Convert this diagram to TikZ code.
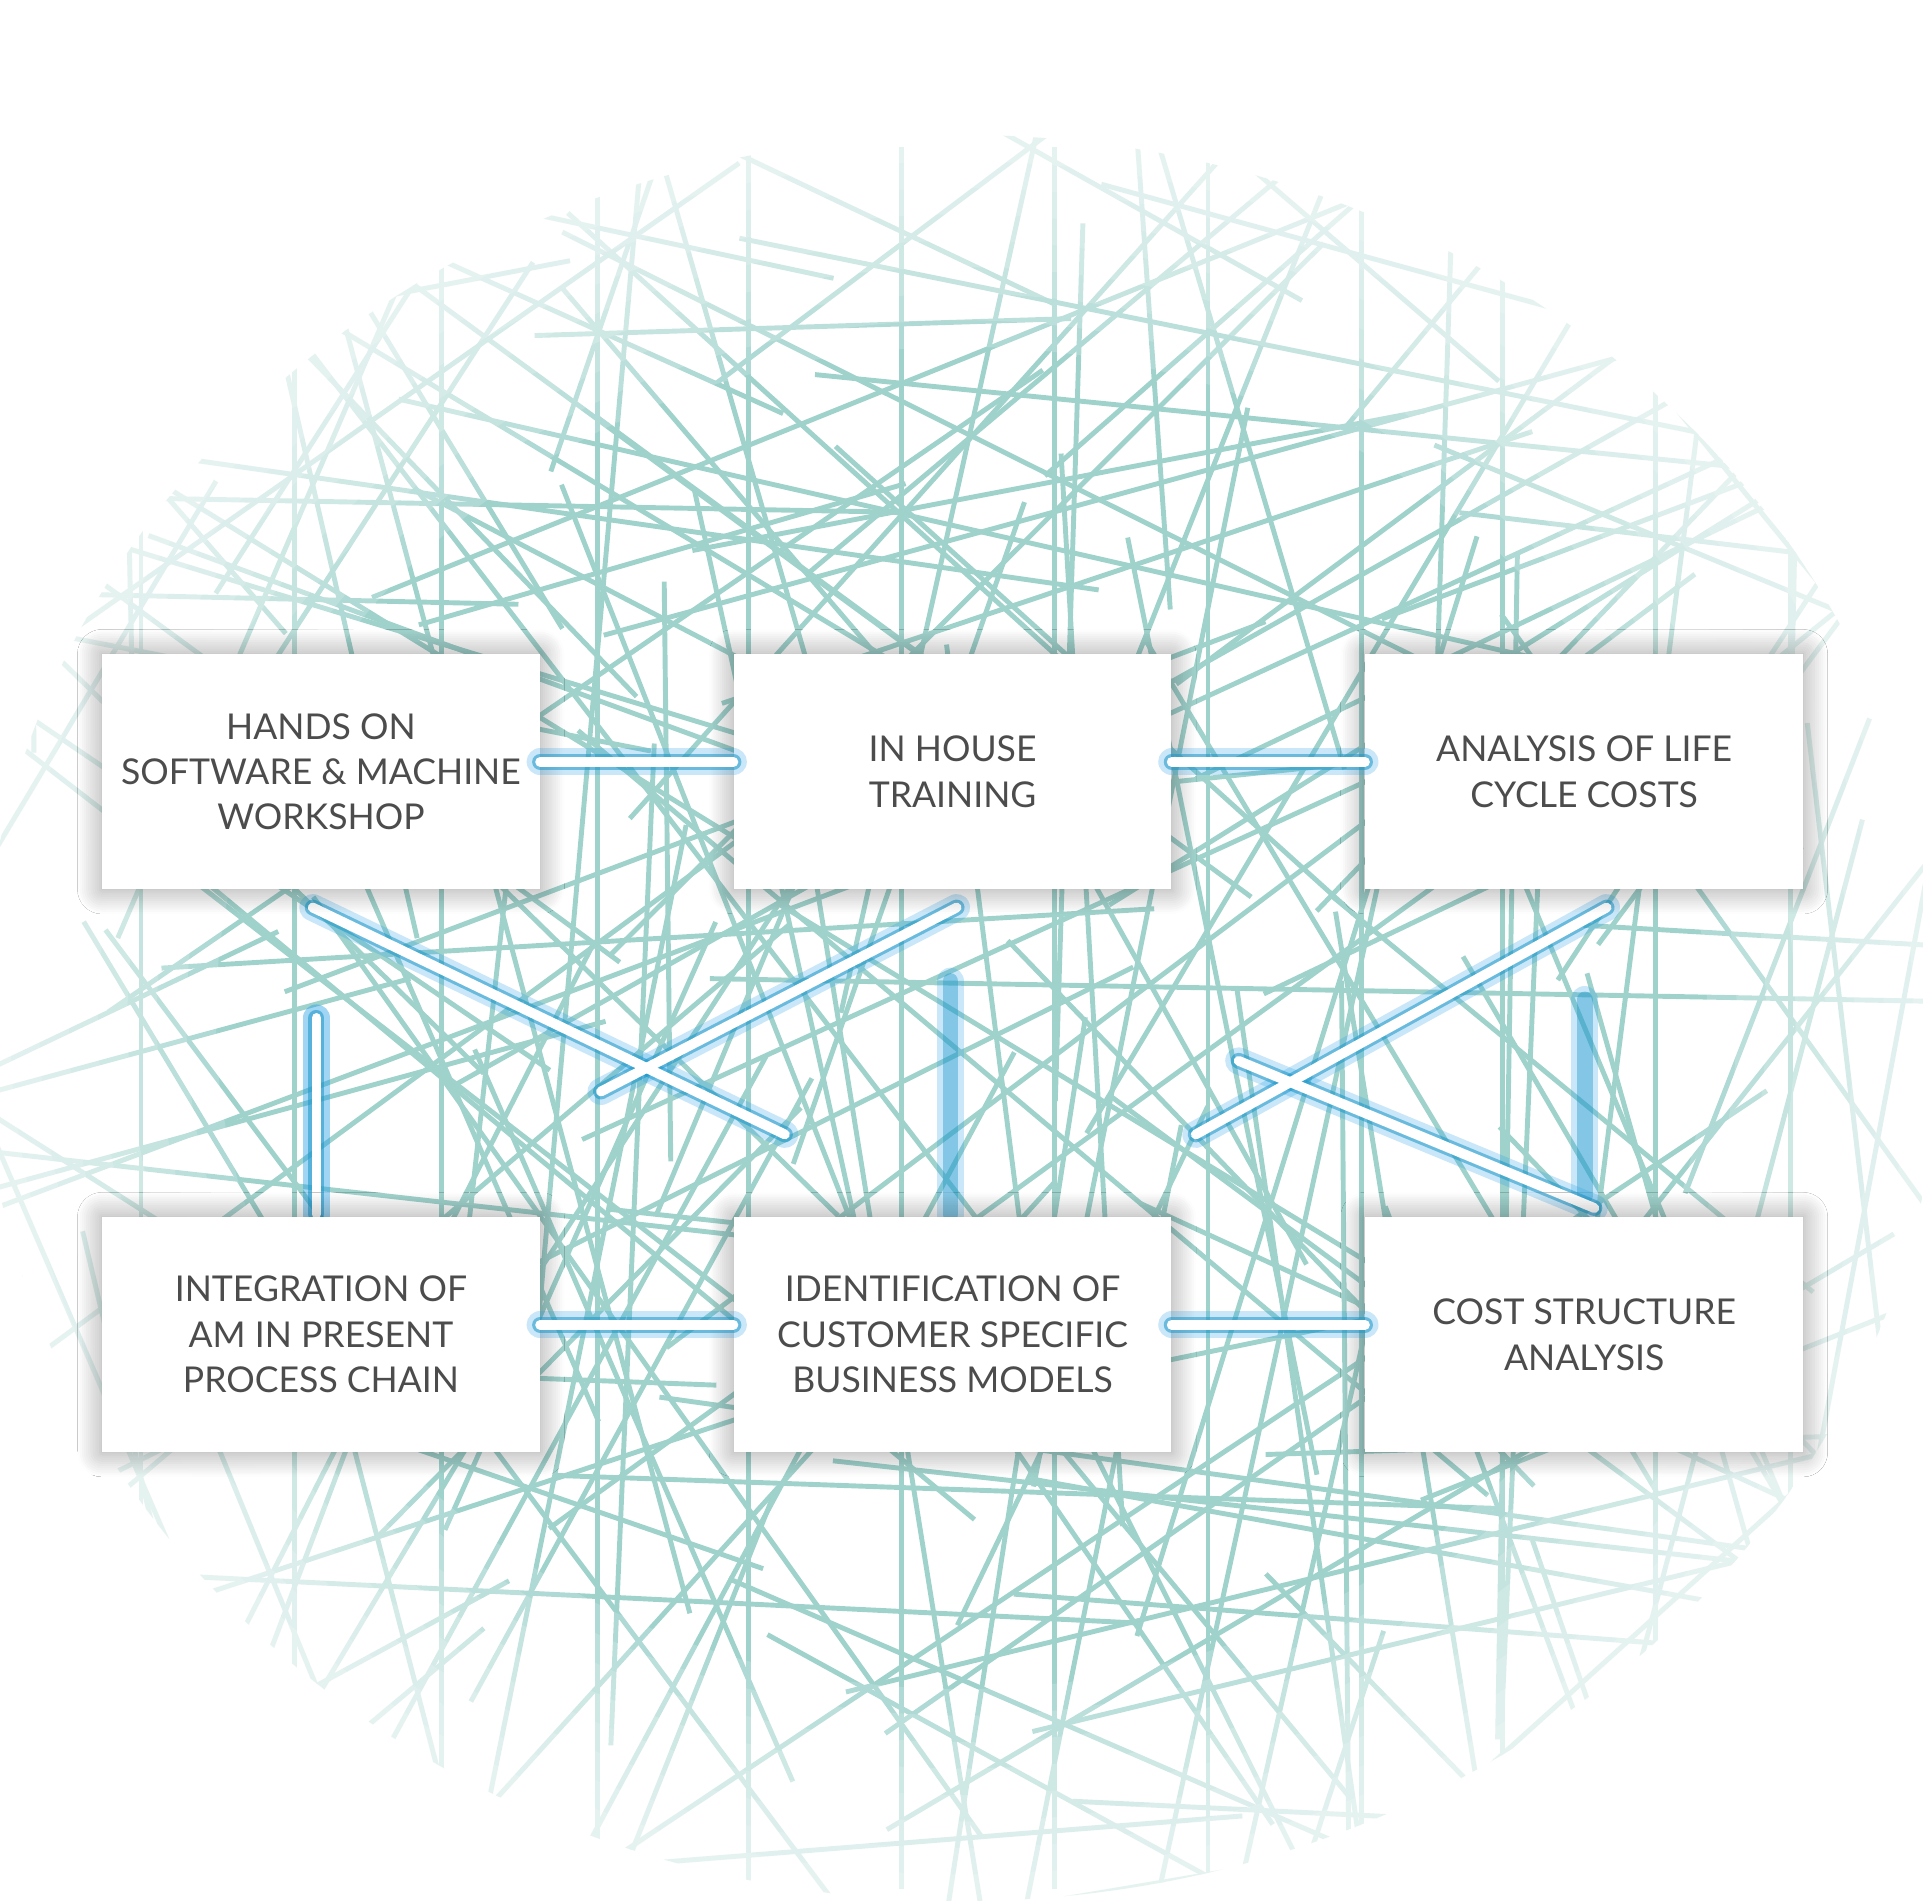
\documentclass[tikz,border=0pt]{standalone}
\usepackage{fontspec}
\setmainfont{Lato}
\usetikzlibrary{shadows.blur}
\definecolor{netc}{RGB}{160,210,204}
\definecolor{glowc}{RGB}{40,160,230}
\begin{document}
\begin{tikzpicture}[x=1pt,y=-1pt,
  box/.style={draw=none,fill=white,minimum width=357pt,minimum height=192pt,anchor=north west,
    align=center,font=\fontsize{29}{37}\selectfont,text=black!70,
    blur shadow={shadow xshift=0pt,shadow yshift=0pt,shadow blur radius=20pt,shadow blur steps=12,shadow opacity=40}},
  glow/.style={line width=22pt,draw=glowc,opacity=.25,line cap=round},
  glowb/.style={line width=13pt,draw=glowc!70!teal,opacity=.55,line cap=round},
  core/.style={line width=8pt,draw=white,line cap=round},
  net/.style={line width=4pt,draw=netc}]
\useasboundingbox (0,0) rectangle (1568,1552);
\begin{scope}
\clip (784,830) ellipse [x radius=800, y radius=720];
\pgfmathsetseed{11}
\foreach \i in {1,...,210}{
  \pgfmathsetmacro\ax{784+rnd*1600-800}
  \pgfmathsetmacro\ay{830+rnd*1440-720}
  \pgfmathsetmacro\an{rnd*180}
  \pgfmathsetmacro\ln{200+rnd*400}
  \draw[net] (\ax,\ay) ++(\an:\ln) -- ++(\an+180:2*\ln);
}
\foreach \x in {115,240,360,487,610,735,860,985,1110,1225,1350,1460}
  \draw[net] (\x,120) -- (\x,1540);
\end{scope}
\foreach \r in {1.0,0.97,...,0.76}
  \fill[white,opacity=.16,even odd rule] (784,830) ellipse [x radius=820, y radius=740]
     (784,830) ellipse [x radius=800*\r, y radius=720*\r];
% connectors
\coordinate (a1) at (255,740); \coordinate (a2) at (640,925);
\coordinate (b1) at (780,740); \coordinate (b2) at (490,890);
\coordinate (c1) at (1310,740); \coordinate (c2) at (975,925);
\coordinate (d1) at (1010,865); \coordinate (d2) at (1300,985);
\coordinate (v1) at (258,830); \coordinate (v2) at (258,990);
\coordinate (w1) at (775,800); \coordinate (w2) at (775,990);
\coordinate (u1) at (1292,815); \coordinate (u2) at (1292,975);
\foreach \p/\q in {v1/v2,w1/w2,u1/u2} \draw[glow] (\p) -- (\q);
\foreach \p/\q in {w1/w2,u1/u2} \draw[glowb,opacity=.4] (\p) -- (\q);
\foreach \p/\q in {a1/a2,b1/b2,c1/c2,d1/d2,v1/v2}{\draw[glow] (\p) -- (\q);\draw[glowb] (\p) -- (\q);}
\foreach \p/\q in {a1/a2,b1/b2,c1/c2,d1/d2,v1/v2}{\draw[core] (\p) -- (\q);}
\node[box] (n1) at (83,533) {HANDS ON\\SOFTWARE \& MACHINE\\WORKSHOP};
\node[box] (n2) at (598,533) {IN HOUSE\\TRAINING};
\node[box] (n3) at (1113,533) {ANALYSIS OF LIFE\\CYCLE COSTS};
\node[box] (n4) at (83,992) {INTEGRATION OF\\AM IN PRESENT\\PROCESS CHAIN};
\node[box] (n5) at (598,992) {IDENTIFICATION OF\\CUSTOMER SPECIFIC\\BUSINESS MODELS};
\node[box] (n6) at (1113,992) {COST STRUCTURE\\ANALYSIS};
\foreach \p/\q in {n1/n2,n2/n3,n4/n5,n5/n6}{
  \draw[glow] ([yshift=8pt]\p.east) -- ([yshift=8pt]\q.west);
  \draw[glowb] ([yshift=8pt]\p.east) -- ([yshift=8pt]\q.west);
  \draw[core] ([yshift=8pt]\p.east) -- ([yshift=8pt]\q.west);}
\end{tikzpicture}
\end{document}
